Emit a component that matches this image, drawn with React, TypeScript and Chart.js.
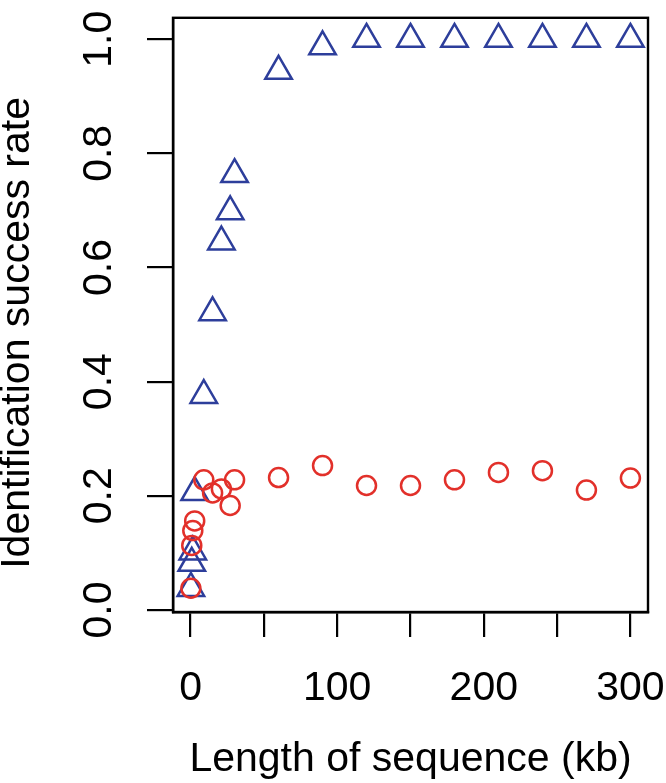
import React, { useEffect, useRef } from "react";
import { Chart, registerables } from "chart.js";

Chart.register(...registerables);

// Sequence length (kb)
const lengths = [0.2, 0.8, 1.5, 2.8, 9, 15, 21, 27, 30, 60, 90, 120, 150, 180, 210, 240, 270, 300];
// Blue triangles
const triangleRates = [0.038, 0.082, 0.102, 0.206, 0.376, 0.521, 0.645, 0.698, 0.763, 0.944, 0.987, 1, 1, 1, 1, 1, 1, 1];
// Red circles
const circleRates = [0.038, 0.113, 0.139, 0.156, 0.228, 0.205, 0.212, 0.183, 0.228, 0.232, 0.253, 0.218, 0.218, 0.228, 0.241, 0.244, 0.21, 0.231];

const xTicks = [0, 50, 100, 150, 200, 250, 300];
const xTickLabels = ["0", "", "100", "", "200", "", "300"];
const yTicks = [0, 0.2, 0.4, 0.6, 0.8, 1.0];
const yTickLabels = ["0.0", "0.2", "0.4", "0.6", "0.8", "1.0"];

const xTitle = "Length of sequence (kb)";
const yTitle = "Identification success rate";

const FONT = "'Liberation Sans', Arial, Helvetica, sans-serif";

const boxPlugin = {
  id: "boxFrame",
  beforeDatasetsDraw(chart: any) {
    const { ctx, chartArea } = chart;
    ctx.save();
    ctx.strokeStyle = "#000";
    ctx.lineWidth = 2.4;
    ctx.strokeRect(chartArea.left, chartArea.top, chartArea.right - chartArea.left, chartArea.bottom - chartArea.top);
    ctx.restore();
  },
};

// y-axis title, placed like R's mtext (slightly below plot-centre in the reference)
const yTitlePlugin = {
  id: "yTitle",
  afterDraw(chart: any) {
    const { ctx, chartArea } = chart;
    const cy = (chartArea.top + chartArea.bottom) / 2 + 18;
    ctx.save();
    ctx.translate(18, cy);
    ctx.rotate(-Math.PI / 2);
    ctx.fillStyle = "#000";
    ctx.font = `41px ${FONT}`;
    ctx.textAlign = "center";
    ctx.textBaseline = "middle";
    ctx.fillText(yTitle, 0, 0);
    ctx.restore();
  },
};

export default function App() {
  const ref = useRef<HTMLCanvasElement | null>(null);

  useEffect(() => {
    document.body.style.margin = "0";
    if (!ref.current) return;
    const chart = new Chart(ref.current, {
      type: "scatter",
      data: {
        datasets: [
          {
            label: "circles",
            data: lengths.map((x, i) => ({ x, y: circleRates[i] })),
            pointStyle: "circle",
            pointRadius: 9.5,
            pointHoverRadius: 9.5,
            borderColor: "#E2302A",
            backgroundColor: "rgba(0,0,0,0)",
            pointBorderWidth: 2.5,
            clip: false as any,
          },
          {
            label: "triangles",
            data: lengths.map((x, i) => ({ x, y: triangleRates[i] })),
            pointStyle: "triangle",
            pointRadius: 15.3,
            pointHoverRadius: 15.3,
            borderColor: "#2D3E9B",
            backgroundColor: "rgba(0,0,0,0)",
            pointBorderWidth: 2.5,
            clip: false as any,
          },
        ],
      },
      options: {
        responsive: false,
        animation: false,
        events: [],
        layout: { padding: { top: 4, right: 18, bottom: 0, left: 0 } },
        plugins: { legend: { display: false }, tooltip: { enabled: false } },
        scales: {
          x: {
            type: "linear",
            min: -12,
            max: 312,
            afterFit: (s: any) => {
              s.height = 171;
              s.paddingLeft = 0;
              s.paddingRight = 0;
            },
            afterBuildTicks: (s: any) => {
              s.ticks = xTicks.map((v) => ({ value: v }));
            },
            ticks: {
              autoSkip: false,
              maxRotation: 0,
              minRotation: 0,
              padding: 27,
              color: "#000",
              font: { family: FONT, size: 41, lineHeight: 1.2 },
              callback: (_v: any, i: number) => xTickLabels[i],
            },
            grid: { drawOnChartArea: false, drawTicks: true, tickLength: 25, lineWidth: 2.2, color: "#000" },
            border: { display: true, color: "#000", width: 2.4 },
            title: {
              display: true,
              text: xTitle,
              color: "#000",
              font: { family: FONT, size: 41, lineHeight: 1 },
              padding: { top: 0, bottom: 2.7 },
            },
          },
          y: {
            type: "linear",
            min: -0.0036,
            max: 1.0375,
            afterFit: (s: any) => {
              s.width = 173;
              s.paddingTop = 0;
              s.paddingBottom = 0;
            },
            afterBuildTicks: (s: any) => {
              s.ticks = yTicks.map((v) => ({ value: v }));
            },
            ticks: {
              autoSkip: false,
              minRotation: 90,
              maxRotation: 90,
              crossAlign: "center",
              padding: 19,
              color: "#000",
              font: { family: FONT, size: 41, lineHeight: 1.2 },
              callback: (_v: any, i: number) => yTickLabels[i],
            },
            grid: { drawOnChartArea: false, drawTicks: true, tickLength: 26, lineWidth: 2.2, color: "#000" },
            border: { display: true, color: "#000", width: 2.4 },
            title: { display: false },
          },
        },
      },
      plugins: [boxPlugin, yTitlePlugin],
    });
    return () => chart.destroy();
  }, []);

  return (
    <div style={{ width: 666, height: 783, position: "relative" }}>
      <canvas ref={ref} width={666} height={783} style={{ display: "block" }} />
    </div>
  );
}
